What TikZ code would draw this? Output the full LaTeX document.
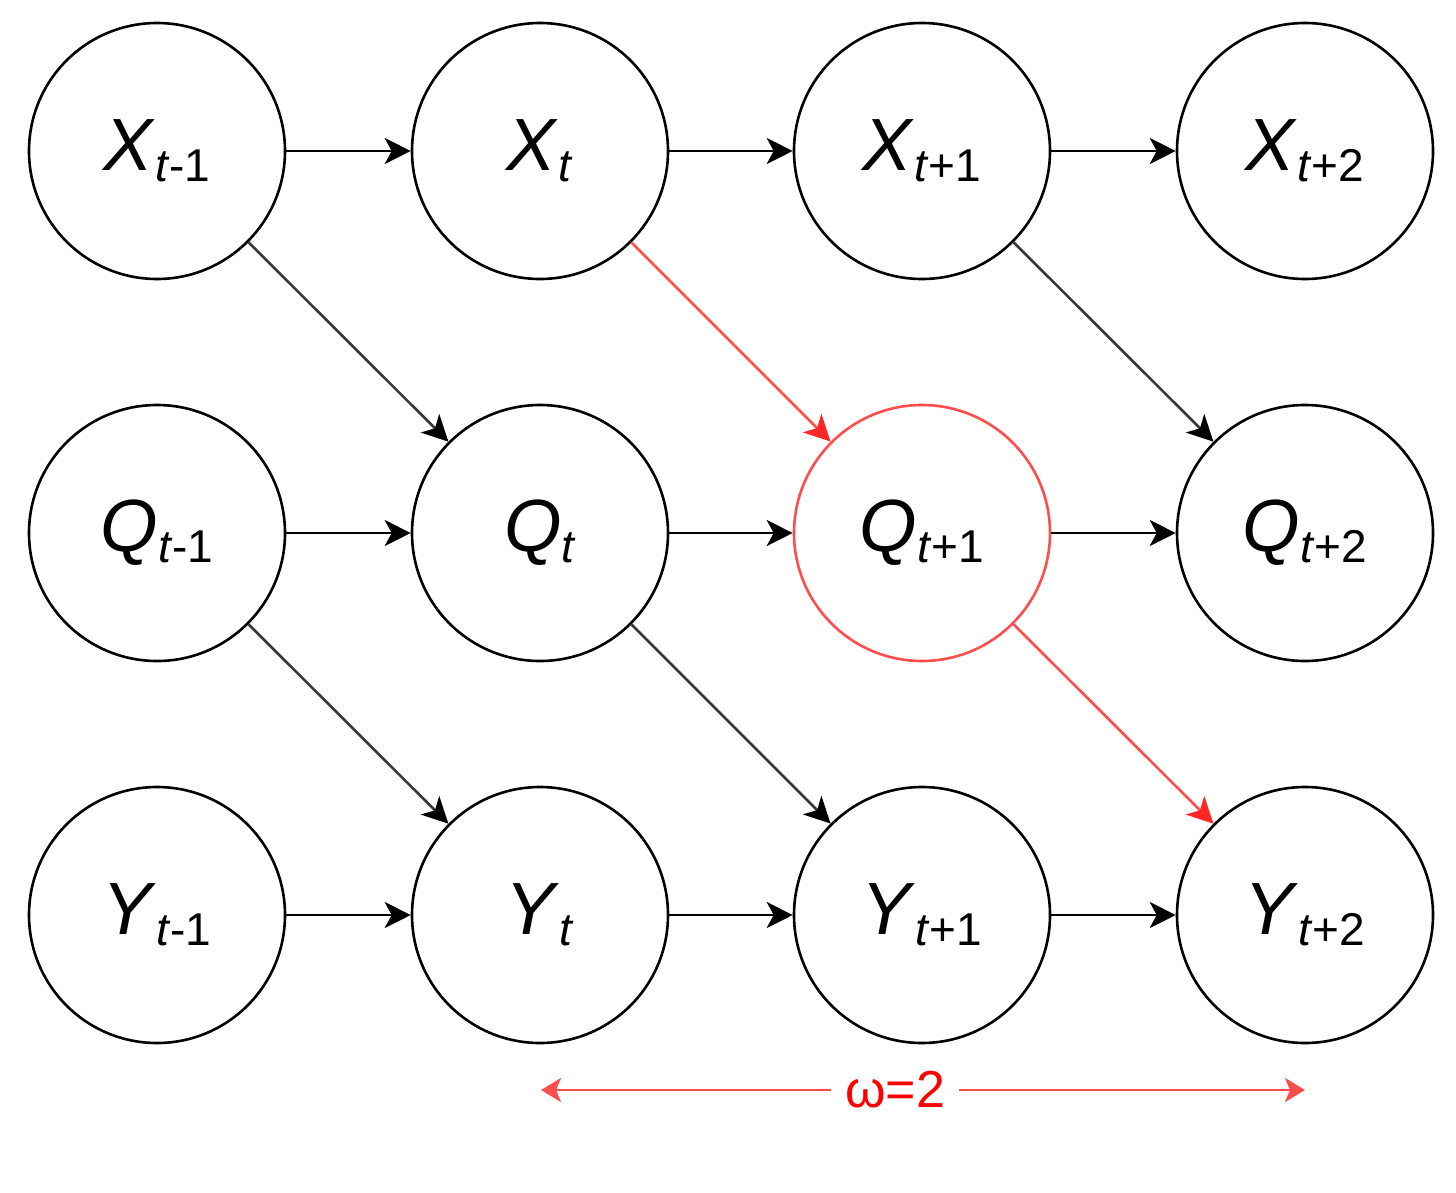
\documentclass[tikz,border=0pt]{standalone}
\usepackage{fontspec}
\setmainfont{Liberation Sans}
\usetikzlibrary{arrows.meta}
\definecolor{lred}{HTML}{FF4D4D}
\definecolor{tred}{HTML}{FF0000}
\definecolor{dgray}{HTML}{383838}
\newcommand{\lbl}[2]{\textit{#1}\raisebox{-11pt}{\fontsize{46}{46}\selectfont\textit{t}#2}}
\tikzset{
  var/.style={circle, draw=black, line width=2.6pt, minimum size=256pt, inner sep=0pt,
    font=\fontsize{74}{74}\selectfont},
  redvar/.style={var, draw=lred},
  arr/.style={line width=2.6pt, -{Stealth[length=26pt,width=26pt,inset=7pt]}},
  darr/.style={arr, draw=dgray, -{Stealth[length=26pt,width=26pt,inset=7pt,color=black]}},
  rarr/.style={arr, draw=lred, -{Stealth[length=26pt,width=26pt,inset=7pt,color=red!85!white]}},
  warr/.style={line width=2.6pt, draw=lred, -{Stealth[length=20pt,width=24pt,inset=5pt]}}
}
\begin{document}
\begin{tikzpicture}[x=1pt,y=-1pt]
\useasboundingbox (0,0) rectangle (1456,1192);
% row X
\node[var] (x1) at (157,151) {\lbl{X}{-1}};
\node[var] (x2) at (540,151) {\lbl{X}{}};
\node[var] (x3) at (922,151) {\lbl{X}{+1}};
\node[var] (x4) at (1305,151) {\lbl{X}{+2}};
% row Q
\node[var] (q1) at (157,533) {\lbl{Q}{-1}};
\node[var] (q2) at (540,533) {\lbl{Q}{}};
\node[redvar] (q3) at (922,533) {\lbl{Q}{+1}};
\node[var] (q4) at (1305,533) {\lbl{Q}{+2}};
% row Y
\node[var] (y1) at (157,915) {\lbl{Y}{-1}};
\node[var] (y2) at (540,915) {\lbl{Y}{}};
\node[var] (y3) at (922,915) {\lbl{Y}{+1}};
\node[var] (y4) at (1305,915) {\lbl{Y}{+2}};
% horizontal
\draw[arr] (x1) -- (x2);
\draw[arr] (x2) -- (x3);
\draw[arr] (x3) -- (x4);
\draw[arr] (q1) -- (q2);
\draw[arr] (q2) -- (q3);
\draw[arr] (q3) -- (q4);
\draw[arr] (y1) -- (y2);
\draw[arr] (y2) -- (y3);
\draw[arr] (y3) -- (y4);
% diagonals
\draw[darr] (x1) -- (q2);
\draw[rarr] (x2) -- (q3);
\draw[darr] (x3) -- (q4);
\draw[darr] (q1) -- (y2);
\draw[darr] (q2) -- (y3);
\draw[rarr] (q3) -- (y4);
% window
\node[text=tred, font=\fontsize{52}{52}\selectfont, inner xsep=14pt, inner ysep=0pt] (w) at (895,1090) {ω=2};
\coordinate (wl) at (541,1090);
\coordinate (wr) at (1305,1090);
\draw[warr] (w.west) -- (wl);
\draw[warr] (w.east) -- (wr);
\end{tikzpicture}
\end{document}
